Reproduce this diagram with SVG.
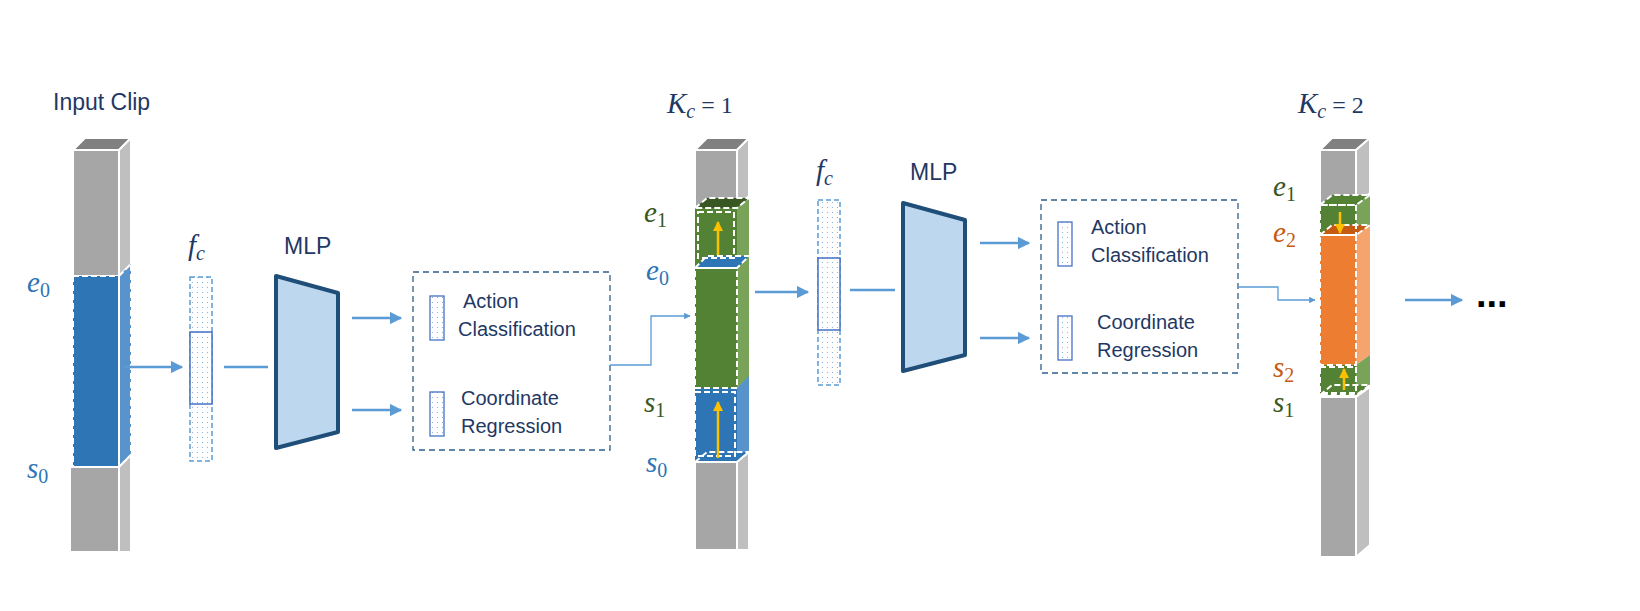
<svg xmlns="http://www.w3.org/2000/svg" width="1640" height="611" viewBox="0 0 1640 611">
<defs>
<marker id="ah" viewBox="0 0 10 10" refX="9" refY="5" markerWidth="5" markerHeight="5" orient="auto"><path d="M0,0L10,5L0,10z" fill="#5b9bd5"/></marker>
<marker id="ay" viewBox="0 0 10 10" refX="9" refY="5" markerWidth="4" markerHeight="4" orient="auto"><path d="M0,0L10,5L0,10z" fill="#ffc000"/></marker>
<pattern id="dots" width="5" height="5" patternUnits="userSpaceOnUse"><rect width="5" height="5" fill="#fff"/><circle cx="2.5" cy="2.5" r="0.6" fill="#7aa7d8"/></pattern>
</defs>
<style>
.t{font-family:"Liberation Sans",Arial,sans-serif;fill:#1f3864}
.m{font-family:"Liberation Serif",serif;font-style:italic;font-size:29px}
.s{font-family:"Liberation Serif",serif;font-style:normal;font-size:20px}
.si{font-family:"Liberation Serif",serif;font-style:italic;font-size:20px}
.gf{fill:#a6a6a6;stroke:#fff;stroke-width:2}
.gs{fill:#bfbfbf;stroke:#fff;stroke-width:2}
.gt{fill:#808080;stroke:#fff;stroke-width:2}
.wd{fill:none;stroke:#fff;stroke-width:2;stroke-dasharray:6 3}
.c{stroke:#5b9bd5;stroke-width:2.5;fill:none;marker-end:url(#ah)}
.l{stroke:#5b9bd5;stroke-width:2.5;fill:none}
.ya{stroke:#ffc000;stroke-width:2.5;marker-end:url(#ay)}
</style>

<g id="col1">
<text class="t" x="53" y="110" font-size="23">Input Clip</text>
<polygon class="gt" points="73,150 85,138 131,138 119,150"/>
<rect class="gf" x="73" y="150" width="46" height="126"/>
<polygon class="gs" points="119,150 131,138 131,264 119,276"/>
<rect x="73" y="276" width="46" height="191" fill="#2e75b6"/>
<polygon points="119,276 131,264 131,455 119,467" fill="#5893cc"/>
<rect class="wd" x="73" y="276" width="46" height="191"/>
<polygon class="wd" points="119,276 131,264 131,455 119,467"/>
<rect class="gf" x="70" y="467" width="49" height="85"/>
<polygon class="gs" points="119,467 131,455 131,552 119,552"/>
<text class="m" x="27" y="292" fill="#2e75b6">e<tspan class="s" dy="5">0</tspan></text>
<text class="m" x="27" y="478" fill="#2e75b6">s<tspan class="s" dy="5">0</tspan></text>
</g>

<g id="fc1">
<text class="m" x="188" y="255" fill="#1f3864">f<tspan class="si" dy="5">c</tspan></text>
<rect x="190" y="277" width="22" height="184" fill="url(#dots)" stroke="#5b9bd5" stroke-width="1.5" stroke-dasharray="5 3"/>
<rect x="190" y="332" width="22" height="72" fill="url(#dots)" stroke="#4472c4" stroke-width="1.5"/>
</g>

<g id="mlp1">
<text class="t" x="284" y="254" font-size="23">MLP</text>
<polygon points="276,276 338,293 338,432 276,448" fill="#bdd7ee" stroke="#1f4e79" stroke-width="4" stroke-linejoin="round"/>
</g>

<g id="box1">
<rect x="413" y="272" width="197" height="178" fill="none" stroke="#2e5f8a" stroke-width="1.3" stroke-dasharray="6 4"/>
<rect x="430" y="296" width="14" height="44" fill="url(#dots)" stroke="#4472c4" stroke-width="1.3"/>
<text class="t" x="463" y="308" font-size="20">Action</text>
<text class="t" x="458" y="336" font-size="20">Classification</text>
<rect x="430" y="392" width="14" height="44" fill="url(#dots)" stroke="#4472c4" stroke-width="1.3"/>
<text class="t" x="461" y="405" font-size="20">Coordinate</text>
<text class="t" x="461" y="433" font-size="20">Regression</text>
</g>

<g id="col2">
<text class="m" x="667" y="113" fill="#1f3864">K<tspan class="si" dy="5">c</tspan><tspan dy="-5" style="font-style:normal;font-size:24px"> = 1</tspan></text>
<polygon class="gt" points="695,150 707,138 749,138 737,150"/>
<rect class="gf" x="695" y="150" width="42" height="58"/>
<polygon class="gs" points="737,150 749,138 749,196 737,208"/>
<polygon points="695,208 707,198 749,198 737,208" fill="#385723"/>
<rect x="695" y="208" width="42" height="180" fill="#548235"/>
<polygon points="737,208 749,198 749,378 737,388" fill="#7aa35a"/>
<polygon points="695,268 707,256 749,256 737,268" fill="#2e75b6"/>
<rect x="695" y="388" width="42" height="74" fill="#2e75b6"/>
<polygon points="737,388 749,376 749,452 737,462" fill="#5893cc"/>
<polygon points="695,462 707,452 749,452 737,462" fill="#2e75b6"/>
<rect class="wd" x="698" y="212" width="36" height="46"/>
<rect class="wd" x="695" y="268" width="42" height="120"/>
<rect class="wd" x="695" y="392" width="40" height="64"/>
<polygon class="wd" points="695,208 707,198 749,198 737,208"/>
<polygon class="wd" points="695,268 707,256 749,256 737,268"/>
<polygon class="wd" points="695,462 707,452 749,452 737,462"/>
<rect class="gf" x="695" y="462" width="42" height="88"/>
<polygon class="gs" points="737,462 749,452 749,550 737,550"/>
<line class="ya" x1="718" y1="255" x2="718" y2="222"/>
<line class="ya" x1="718" y1="458" x2="718" y2="402"/>
<text class="m" x="644" y="222" fill="#385723">e<tspan class="s" dy="5">1</tspan></text>
<text class="m" x="646" y="280" fill="#2e75b6">e<tspan class="s" dy="5">0</tspan></text>
<text class="m" x="644" y="412" fill="#385723">s<tspan class="s" dy="5">1</tspan></text>
<text class="m" x="646" y="472" fill="#2e75b6">s<tspan class="s" dy="5">0</tspan></text>
</g>

<g id="fc2">
<text class="m" x="816" y="180" fill="#1f3864">f<tspan class="si" dy="5">c</tspan></text>
<rect x="818" y="200" width="22" height="185" fill="url(#dots)" stroke="#5b9bd5" stroke-width="1.5" stroke-dasharray="5 3"/>
<rect x="818" y="258" width="22" height="72" fill="url(#dots)" stroke="#4472c4" stroke-width="1.5"/>
</g>

<g id="mlp2">
<text class="t" x="910" y="180" font-size="23">MLP</text>
<polygon points="903,203 965,220 965,355 903,371" fill="#bdd7ee" stroke="#1f4e79" stroke-width="4" stroke-linejoin="round"/>
</g>

<g id="box2">
<rect x="1041" y="200" width="197" height="173" fill="none" stroke="#2e5f8a" stroke-width="1.3" stroke-dasharray="6 4"/>
<rect x="1058" y="222" width="14" height="44" fill="url(#dots)" stroke="#4472c4" stroke-width="1.3"/>
<text class="t" x="1091" y="234" font-size="20">Action</text>
<text class="t" x="1091" y="262" font-size="20">Classification</text>
<rect x="1058" y="316" width="14" height="44" fill="url(#dots)" stroke="#4472c4" stroke-width="1.3"/>
<text class="t" x="1097" y="329" font-size="20">Coordinate</text>
<text class="t" x="1097" y="357" font-size="20">Regression</text>
</g>

<g id="col3">
<text class="m" x="1298" y="113" fill="#1f3864">K<tspan class="si" dy="5">c</tspan><tspan dy="-5" style="font-style:normal;font-size:24px"> = 2</tspan></text>
<polygon class="gt" points="1320,150 1332,138 1370,138 1356,150"/>
<rect class="gf" x="1320" y="150" width="36" height="55"/>
<polygon class="gs" points="1356,150 1370,138 1370,193 1356,205"/>
<polygon points="1320,205 1332,195 1370,195 1356,205" fill="#548235"/>
<rect x="1320" y="205" width="36" height="30" fill="#548235"/>
<polygon points="1356,205 1370,195 1370,225 1356,235" fill="#7aa35a"/>
<polygon points="1320,235 1332,225 1370,225 1356,235" fill="#c55a11"/>
<rect x="1320" y="235" width="36" height="130" fill="#ed7d31"/>
<polygon points="1356,235 1370,225 1370,355 1356,365" fill="#f4a46c"/>
<rect x="1320" y="365" width="36" height="30" fill="#548235"/>
<polygon points="1356,365 1370,355 1370,385 1356,395" fill="#7aa35a"/>
<polygon points="1320,395 1332,385 1370,385 1356,395" fill="#548235"/>
<rect class="wd" x="1320" y="205" width="36" height="30"/>
<rect class="wd" x="1320" y="235" width="36" height="130"/>
<rect class="wd" x="1320" y="367" width="36" height="26"/>
<polygon class="wd" points="1320,205 1332,195 1370,195 1356,205"/>
<polygon class="wd" points="1320,235 1332,225 1370,225 1356,235"/>
<polygon class="wd" points="1320,395 1332,385 1370,385 1356,395"/>
<rect class="gf" x="1320" y="397" width="36" height="160"/>
<polygon class="gs" points="1356,397 1370,387 1370,545 1356,557"/>
<line class="ya" x1="1340" y1="212" x2="1340" y2="233"/>
<line class="ya" x1="1344" y1="390" x2="1344" y2="369"/>
<text class="m" x="1273" y="196" fill="#385723">e<tspan class="s" dy="5">1</tspan></text>
<text class="m" x="1273" y="242" fill="#c55a11">e<tspan class="s" dy="5">2</tspan></text>
<text class="m" x="1273" y="377" fill="#c55a11">s<tspan class="s" dy="5">2</tspan></text>
<text class="m" x="1273" y="412" fill="#385723">s<tspan class="s" dy="5">1</tspan></text>
</g>

<g id="connectors">
<line class="c" x1="124" y1="367" x2="182" y2="367"/>
<line class="l" x1="224" y1="367" x2="268" y2="367"/>
<line class="c" x1="352" y1="318" x2="401" y2="318"/>
<line class="c" x1="352" y1="410" x2="401" y2="410"/>
<polyline class="c" style="stroke-width:1.3" points="610,365 651,365 651,316 690,316"/>
<line class="c" x1="755" y1="292" x2="808" y2="292"/>
<line class="l" x1="850" y1="290" x2="895" y2="290"/>
<line class="c" x1="980" y1="243" x2="1029" y2="243"/>
<line class="c" x1="980" y1="338" x2="1029" y2="338"/>
<polyline class="c" style="stroke-width:1.3" points="1238,287 1278,287 1278,300 1315,300"/>
<line class="c" x1="1405" y1="300" x2="1462" y2="300"/>
</g>
<text x="1476" y="307" font-family="Liberation Sans,sans-serif" font-size="38" font-weight="bold" fill="#000">...</text>
</svg>
